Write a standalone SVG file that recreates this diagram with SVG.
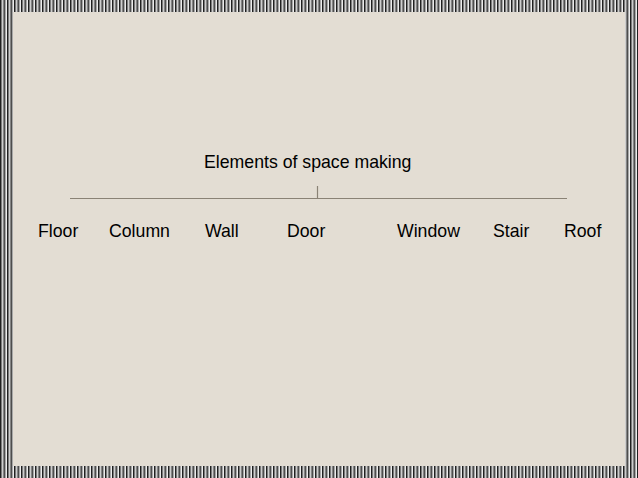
<svg xmlns="http://www.w3.org/2000/svg" width="638" height="478" viewBox="0 0 638 478">
<defs>
<pattern id="stripes" x="0" y="0" width="3.5" height="10" patternUnits="userSpaceOnUse">
<rect x="0" y="0" width="3.5" height="10" fill="#f0f0f0"/>
<rect x="0" y="0" width="1.5" height="10" fill="#1a1a1a"/>
<rect x="1.5" y="0" width="0.8" height="10" fill="#9a9a9a"/>
</pattern>
</defs>
<style>
.t{font-family:"Liberation Sans",Arial,sans-serif;font-size:17.7px;fill:#000}
.ln{stroke:#8a8275;stroke-width:1.2;fill:none}
</style>
<rect x="0" y="0" width="638" height="478" fill="url(#stripes)"/>
<rect x="13" y="12" width="612" height="454" fill="#e3ddd3"/>
<g id="connectors">
<line class="ln" x1="70" y1="198.5" x2="567" y2="198.5"/>
<line class="ln" x1="317.5" y1="186" x2="317.5" y2="198"/>
</g>
<g id="title"><text class="t" x="204" y="168">Elements of space making</text></g>
<g id="floor"><text class="t" x="38" y="237">Floor</text></g>
<g id="column"><text class="t" x="109" y="237">Column</text></g>
<g id="wall"><text class="t" x="205" y="237">Wall</text></g>
<g id="door"><text class="t" x="287" y="237">Door</text></g>
<g id="window"><text class="t" x="397" y="237">Window</text></g>
<g id="stair"><text class="t" x="493" y="237">Stair</text></g>
<g id="roof"><text class="t" x="564" y="237">Roof</text></g>
</svg>
